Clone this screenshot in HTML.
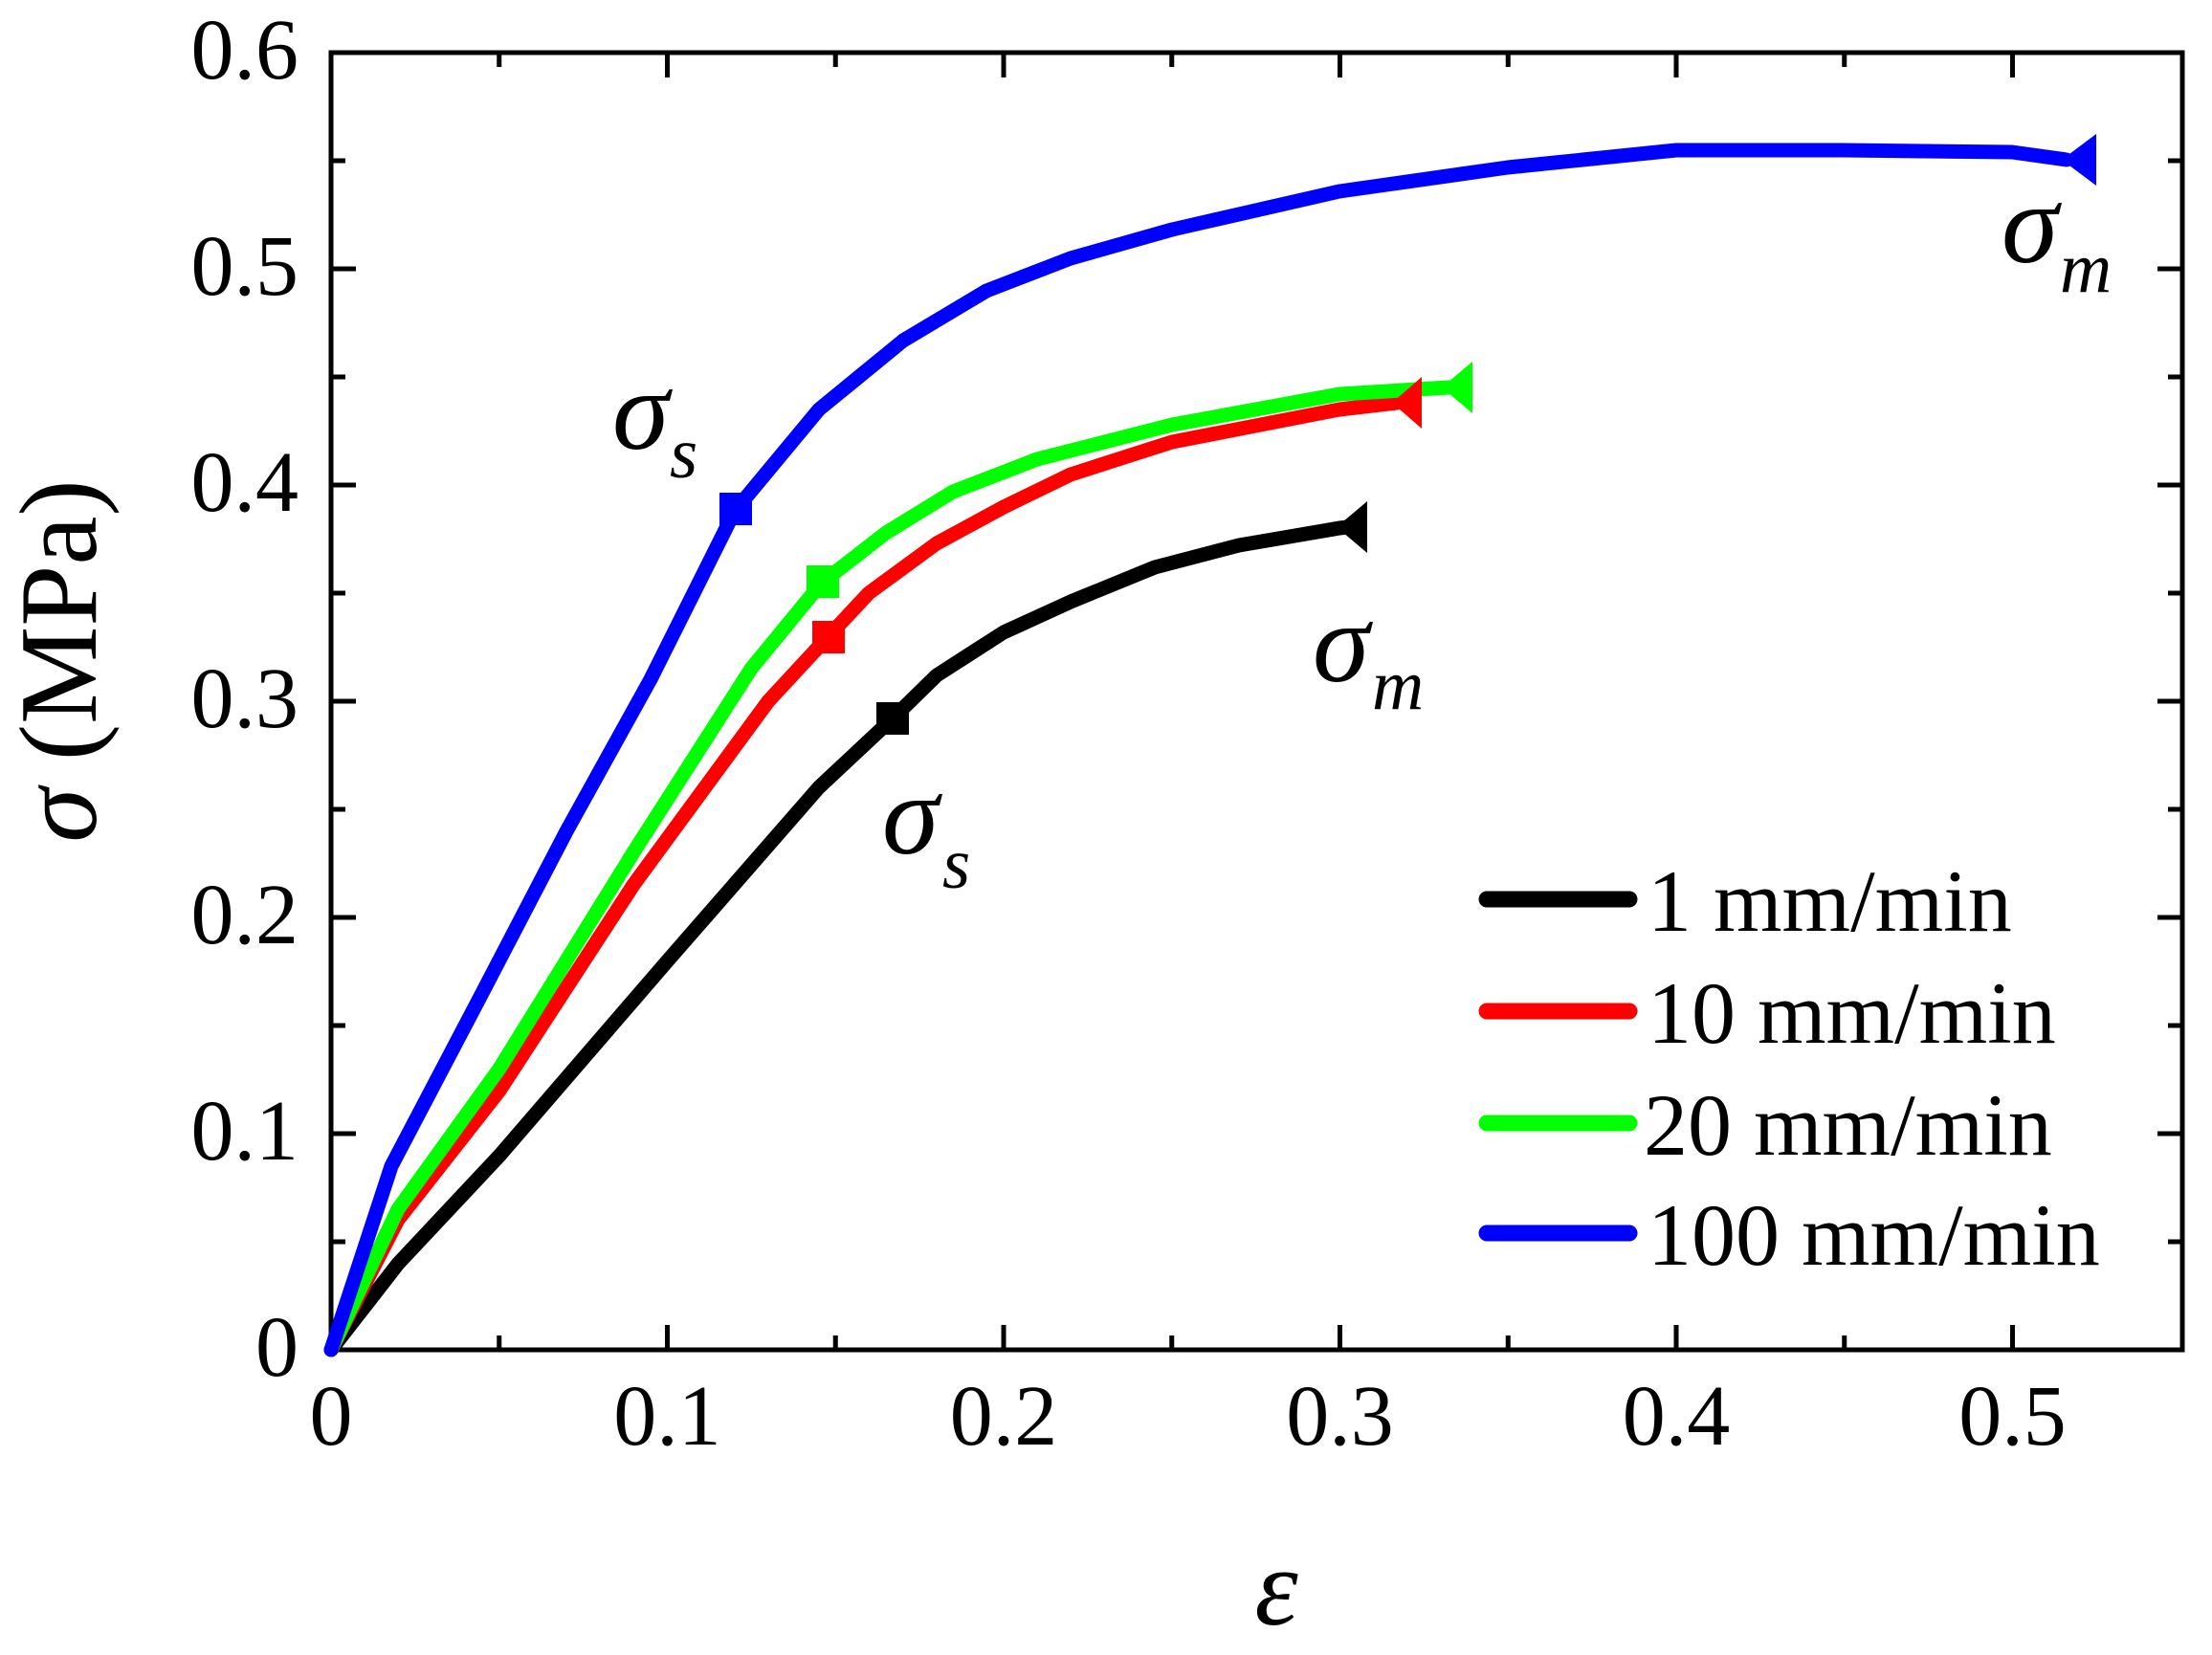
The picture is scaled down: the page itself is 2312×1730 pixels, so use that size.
<!DOCTYPE html>
<html><head><meta charset="utf-8"><style>
html,body{margin:0;padding:0;background:#fff;}
svg{display:block;}
text{font-family:"Liberation Serif","Times New Roman",Times,serif;fill:#000;}
</style></head><body>
<svg width="2312" height="1730" viewBox="0 0 2312 1730" xmlns="http://www.w3.org/2000/svg">
<g stroke="#000" stroke-width="5" fill="none">
<rect x="346" y="55" width="1935" height="1356"/>
<path d="M697.5 1411v-26M1049 1411v-26M1400.5 1411v-26M1752 1411v-26M2103.5 1411v-26
M697.5 55v26M1049 55v26M1400.5 55v26M1752 55v26M2103.5 55v26
M521.75 1411v-15M873.25 1411v-15M1224.75 1411v-15M1576.25 1411v-15M1927.75 1411v-15
M521.75 55v15M873.25 55v15M1224.75 55v15M1576.25 55v15M1927.75 55v15"/>
<path d="M346 1185h26M346 959h26M346 733h26M346 507h26M346 281h26
M2281 1185h-26M2281 959h-26M2281 733h-26M2281 507h-26M2281 281h-26
M346 1298h15M346 1072h15M346 846h15M346 620h15M346 394h15M346 168h15
M2281 1298h-15M2281 1072h-15M2281 846h-15M2281 620h-15M2281 394h-15M2281 168h-15"/>
</g>
<g font-size="90" text-anchor="middle">
<text x="346" y="1510">0</text>
<text x="697.5" y="1510">0.1</text>
<text x="1049" y="1510">0.2</text>
<text x="1400.5" y="1510">0.3</text>
<text x="1752" y="1510">0.4</text>
<text x="2103.5" y="1510">0.5</text>
</g>
<g font-size="90" text-anchor="end">
<text x="312" y="1438">0</text>
<text x="312" y="1212">0.1</text>
<text x="312" y="986">0.2</text>
<text x="312" y="760">0.3</text>
<text x="312" y="534">0.4</text>
<text x="312" y="308">0.5</text>
<text x="312" y="82">0.6</text>
</g>
<text font-size="115" text-anchor="middle" transform="translate(100,691) rotate(-90)"><tspan font-style="italic">σ</tspan> (MPa)</text>
<text x="1334" y="1698" font-size="115" font-style="italic" text-anchor="middle">ε</text>

<g fill="none" stroke-width="15" stroke-linejoin="round" stroke-linecap="round">
<polyline stroke="#000" points="346,1411 416,1321 522,1208 698,1004 856,823 933,751 979,706 1049,661 1119,629 1207,593 1295,570 1400,552 1418,550"/>
<polyline stroke="#f00" points="346,1411 416,1275 522,1140 662,925 803,733 866,665 908,620 979,568 1049,530 1119,496 1225,462 1400,428 1460,421"/>
<polyline stroke="#0f0" points="346,1411 416,1264 522,1117 662,891 785,699 859,609 926,557 996,514 1084,480 1225,444 1400,412 1514,405"/>
<polyline stroke="#00f" points="346,1411 409,1219 504,1038 592,869 680,710 768,534 856,428 944,356 1031,304 1119,270 1225,240 1400,200 1576,175 1752,157 1927,157 2103,159 2160,167"/>
</g>
<rect x="752" y="515" width="34" height="34" fill="#00f"/>
<rect x="843" y="591" width="34" height="34" fill="#0f0"/>
<rect x="849" y="649" width="34" height="34" fill="#f00"/>
<rect x="916" y="734" width="34" height="34" fill="#000"/>
<polygon points="1397,551 1429,524 1429,578" fill="#000"/>
<polygon points="1455,421 1486,394 1486,448" fill="#f00"/>
<polygon points="1507,405 1539,378 1539,432" fill="#0f0"/>
<polygon points="2155,167 2191,140 2191,194" fill="#00f"/>

<g font-style="italic">
<text x="640" y="469" font-size="120">σ</text><text x="700" y="499" font-size="75">s</text>
<text x="922" y="892" font-size="120">σ</text><text x="985" y="928" font-size="75">s</text>
<text x="1372" y="712" font-size="120">σ</text><text x="1434" y="741" font-size="75">m</text>
<text x="2092" y="274" font-size="120">σ</text><text x="2153" y="305" font-size="75">m</text>
</g>

<g stroke-width="17" stroke-linecap="round">
<line x1="1554" y1="940" x2="1703" y2="940" stroke="#000"/>
<line x1="1554" y1="1057" x2="1703" y2="1057" stroke="#f00"/>
<line x1="1554" y1="1174" x2="1703" y2="1174" stroke="#0f0"/>
<line x1="1554" y1="1289" x2="1703" y2="1289" stroke="#00f"/>
</g>
<g font-size="92">
<text x="1722" y="973">1 mm/min</text>
<text x="1722" y="1090">10 mm/min</text>
<text x="1718" y="1207">20 mm/min</text>
<text x="1722" y="1322">100 mm/min</text>
</g>
</svg>
</body></html>
